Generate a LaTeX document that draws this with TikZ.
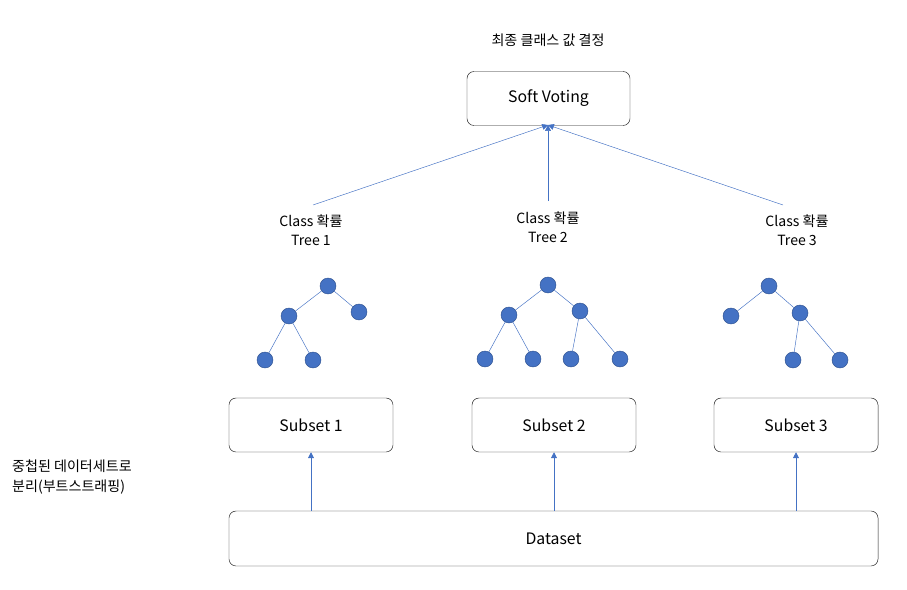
\documentclass[tikz,border=0pt]{standalone}
\usepackage{fontspec}
\setmainfont{Noto Sans CJK KR}
\usetikzlibrary{arrows.meta}
\definecolor{nodeblue}{HTML}{4472C4}
\definecolor{nodeedge}{HTML}{2F528F}
\tikzset{
  box/.style={draw=black!90, rounded corners=6pt, minimum height=1.62cm, font=\fontsize{13.5}{16}\selectfont},
  leaf/.style={circle, fill=nodeblue, draw=nodeedge, inner sep=0pt, minimum size=0.48cm},
  link/.style={nodeblue},
  feed/.style={nodeblue, -{Triangle[length=5pt,width=5pt]}},
  lbl/.style={font=\fontsize{12}{16.5}\selectfont, align=center}
}
\begin{document}
\begin{tikzpicture}[x=0.03cm, y=-0.03cm]
	\useasboundingbox (0,0) rectangle (907,589);
	
	\node [lbl] (title) at (548,40) {최종 클래스 값 결정};
	\node [box, minimum width=4.89cm] (vote) at (548.5,98.5) {Soft Voting};
	
	\node [lbl] (c1) at (311,230) {Class 확률\\Tree 1};
	\node [lbl] (c2) at (548,227) {Class 확률\\Tree 2};
	\node [lbl] (c3) at (797,230) {Class 확률\\Tree 3};
	
	\coordinate (tip) at (548,125);
	\coordinate (f1) at (313,205);
	\coordinate (f2) at (548,201);
	\coordinate (f3) at (783,205);
	\draw [feed] (f1) -- (tip);
	\draw [feed] (f2) -- (tip);
	\draw [feed] (f3) -- (tip);
	
	% tree 1
	\node [leaf] (a0) at (328,286) {};
	\node [leaf] (a1) at (289,316) {};
	\node [leaf] (a2) at (359,312) {};
	\node [leaf] (a3) at (265,360) {};
	\node [leaf] (a4) at (313,360) {};
	\draw [link] (a0) -- (a1);
	\draw [link] (a0) -- (a2);
	\draw [link] (a1) -- (a3);
	\draw [link] (a1) -- (a4);
	
	% tree 2
	\node [leaf] (b0) at (548,285) {};
	\node [leaf] (b1) at (509,315) {};
	\node [leaf] (b2) at (580,311) {};
	\node [leaf] (b3) at (485,359) {};
	\node [leaf] (b4) at (533,359) {};
	\node [leaf] (b5) at (571,359) {};
	\node [leaf] (b6) at (620,359) {};
	\draw [link] (b0) -- (b1);
	\draw [link] (b0) -- (b2);
	\draw [link] (b1) -- (b3);
	\draw [link] (b1) -- (b4);
	\draw [link] (b2) -- (b5);
	\draw [link] (b2) -- (b6);
	
	% tree 3
	\node [leaf] (t0) at (769,286) {};
	\node [leaf] (t1) at (731,316) {};
	\node [leaf] (t2) at (800,313) {};
	\node [leaf] (t3) at (793,360) {};
	\node [leaf] (t4) at (840,360) {};
	\draw [link] (t0) -- (t1);
	\draw [link] (t0) -- (t2);
	\draw [link] (t2) -- (t3);
	\draw [link] (t2) -- (t4);
	
	\node [box, minimum width=4.92cm] (s1) at (311,425) {Subset 1};
	\node [box, minimum width=4.92cm] (s2) at (554,425) {Subset 2};
	\node [box, minimum width=4.92cm] (s3) at (796,425) {Subset 3};
	\node [box, minimum width=19.47cm, minimum height=1.65cm] (data) at (553.5,538.5) {Dataset};
	
	\draw [feed] (data.north -| s1) -- (s1.south);
	\draw [feed] (data.north -| s2) -- (s2.south);
	\draw [feed] (data.north -| s3) -- (s3.south);
	
	\node [lbl, anchor=west, align=left] (split) at (8,477) {중첩된 데이터세트로\\분리(부트스트래핑)};
\end{tikzpicture}
\end{document}
